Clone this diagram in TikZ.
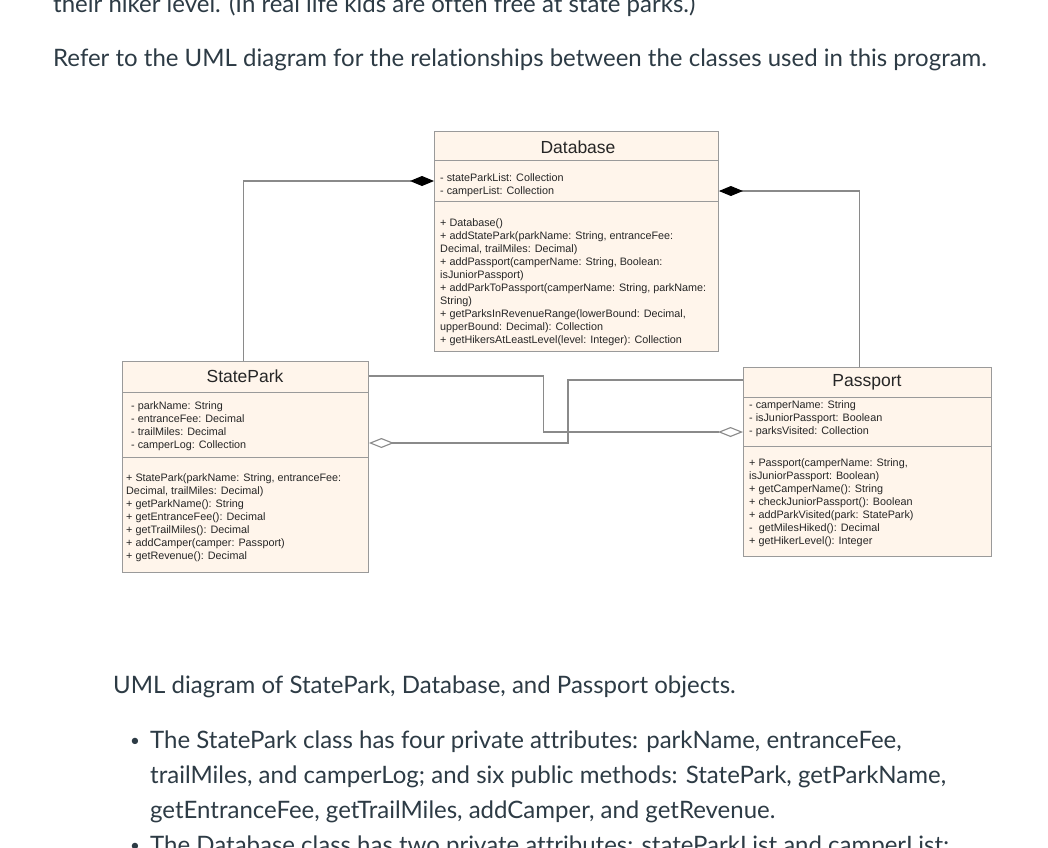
\documentclass[tikz,border=0pt]{standalone}
\usepackage{fontspec}
\usetikzlibrary{arrows.meta,calc}

\newfontfamily\umlfont{Liberation Sans}
\newfontfamily\pagefont{Lato}[Ligatures=CommonOff]

\definecolor{boxfill}{HTML}{FFF5EB}
\definecolor{boxline}{HTML}{9A9A9A}
\definecolor{linkgray}{HTML}{8A8A8A}
\definecolor{pagetext}{HTML}{2D3B45}

\tikzset{
  classbox/.style={draw=boxline, fill=boxfill, line width=0.9pt, inner sep=0pt, anchor=north west},
  classname/.style={font=\umlfont\fontsize{17.5}{20}\selectfont, text=black!85, inner sep=0pt},
  members/.style={font=\umlfont\fontsize{10.8}{13}\selectfont, text=black!85, inner sep=0pt,
    anchor=north west, align=left, execute at begin node=\strut},
  compline/.style={draw=boxline, line width=0.9pt},
  link/.style={draw=linkgray, line width=1.1pt},
  composition/.style={link, -{Diamond[length=24pt, width=10pt, color=black]}},
  aggregation/.style={link, -{Diamond[open, length=25pt, width=10pt]}},
  pagetxt/.style={font=\pagefont\fontsize{24}{35}\selectfont, text=pagetext, inner sep=0pt, anchor=base west},
  listdot/.style={font=\pagefont\fontsize{17}{20}\selectfont, text=pagetext, inner sep=0pt, anchor=base west}
}

\begin{document}
\begin{tikzpicture}[x=1pt, y=-1pt]

  % --- page ---
  \useasboundingbox[fill=white] (0,0) rectangle (1048,847);

  % --- text above the diagram ---
  \node[pagetxt] (intro-cut) at (53,12) {their hiker level. (In real life kids are often free at state parks.)};
  \node[pagetxt] (intro) at (53,66.5) {Refer to the UML diagram for the relationships between the classes used in this program.};

  % --- Database class ---
  \node[classbox, minimum width=284, minimum height=220] (Database) at (434,131) {};
  \node[classname] (db-title) at (578,147) {Database};
  \draw[compline] ([yshift=-29]Database.north west) -- ([yshift=-29]Database.north east);
  \draw[compline] ([yshift=-70]Database.north west) -- ([yshift=-70]Database.north east);
  \node[members] (db-attrs) at (440,173.6) {- stateParkList: Collection\\- camperList: Collection};
  \node[members] (db-ops) at (440,218.6) {+ Database()\\
    + addStatePark(parkName: String, entranceFee:\\
    Decimal, trailMiles: Decimal)\\
    + addPassport(camperName: String, Boolean:\\
    isJuniorPassport)\\
    + addParkToPassport(camperName: String, parkName:\\
    String)\\
    + getParksInRevenueRange(lowerBound: Decimal,\\
    upperBound: Decimal): Collection\\
    + getHikersAtLeastLevel(level: Integer): Collection};

  % --- StatePark class ---
  \node[classbox, minimum width=246, minimum height=211] (StatePark) at (122,361) {};
  \node[classname] (sp-title) at (245,376) {StatePark};
  \draw[compline] ([yshift=-31]StatePark.north west) -- ([yshift=-31]StatePark.north east);
  \draw[compline] ([yshift=-96]StatePark.north west) -- ([yshift=-96]StatePark.north east);
  \node[members] (sp-attrs) at (131,401.3) {- parkName: String\\- entranceFee: Decimal\\- trailMiles: Decimal\\- camperLog: Collection};
  \node[members] (sp-ops) at (126,473.4) {+ StatePark(parkName: String, entranceFee:\\
    Decimal, trailMiles: Decimal)\\
    + getParkName(): String\\
    + getEntranceFee(): Decimal\\
    + getTrailMiles(): Decimal\\
    + addCamper(camper: Passport)\\
    + getRevenue(): Decimal};

  % --- Passport class ---
  \node[classbox, minimum width=248, minimum height=189] (Passport) at (743,367) {};
  \node[classname] (pp-title) at (867,382.5) {Passport};
  \draw[compline] ([yshift=-30]Passport.north west) -- ([yshift=-30]Passport.north east);
  \draw[compline] ([yshift=-79]Passport.north west) -- ([yshift=-79]Passport.north east);
  \node[members] (pp-attrs) at (749,400.6) {- camperName: String\\- isJuniorPassport: Boolean\\- parksVisited: Collection};
  \node[members] (pp-ops) at (749,458.6) {+ Passport(camperName: String,\\
    isJuniorPassport: Boolean)\\
    + getCamperName(): String\\
    + checkJuniorPassport(): Boolean\\
    + addParkVisited(park: StatePark)\\
    -\ \ getMilesHiked(): Decimal\\
    + getHikerLevel(): Integer};

  % --- relationships ---
  \draw[composition] ([xshift=-2]StatePark.north) |- ([yshift=-50]Database.north west);
  \draw[composition] ([xshift=-8]Passport.north) |- ([yshift=-60]Database.north east);
  \draw[aggregation] ([yshift=-15]StatePark.north east) -- ++(175,0) |- ([yshift=-65]Passport.north west);
  \draw[aggregation] ([yshift=-13]Passport.north west) -- ++(-175,0) |- ([yshift=-82]StatePark.north east);

  % --- text below the diagram ---
  \node[pagetxt] (caption) at (113,693.5) {UML diagram of StatePark, Database, and Passport objects.};
  \node[listdot] (dot-a) at (130,746) {•};
  \node[pagetxt] (sp-line1) at (150,748) {The StatePark class has four private attributes: parkName, entranceFee,};
  \node[pagetxt] (sp-line2) at (150,783) {trailMiles, and camperLog; and six public methods: StatePark, getParkName,};
  \node[pagetxt] (sp-line3) at (150,818) {getEntranceFee, getTrailMiles, addCamper, and getRevenue.};
  \node[listdot] (dot-b) at (130,851) {•};
  \node[pagetxt] (db-line1) at (150,853) {The Database class has two private attributes: stateParkList and camperList;};

\end{tikzpicture}
\end{document}
